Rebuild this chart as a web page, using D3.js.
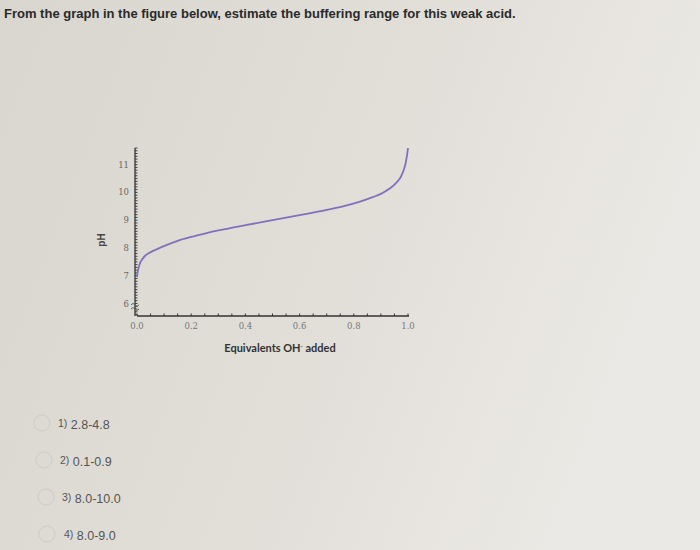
<!DOCTYPE html>
<html><head><meta charset="utf-8">
<script src="https://cdn.jsdelivr.net/npm/d3@7"></script>
<style>html,body{margin:0;padding:0;overflow:hidden;}svg{display:block;}</style>
</head><body>
<svg id="c" width="700" height="550"></svg>
<script>
const titleText = "From the graph in the figure below, estimate the buffering range for this weak acid.";
const xLabel = "Equivalents OH";
const yLabel = "pH";
const equivalents = [0, 0.002, 0.006, 0.012, 0.02, 0.03, 0.045, 0.065, 0.09, 0.12, 0.16, 0.2, 0.25, 0.3, 0.4, 0.5, 0.6, 0.7, 0.76, 0.82, 0.87, 0.9, 0.93, 0.95, 0.97, 0.98, 0.99, 0.995, 1.0];
const phValues   = [6.95, 7.1, 7.3, 7.47, 7.6, 7.72, 7.82, 7.92, 8.03, 8.15, 8.29, 8.4, 8.52, 8.63, 8.82, 9.0, 9.18, 9.37, 9.5, 9.66, 9.83, 9.95, 10.12, 10.28, 10.5, 10.7, 11.0, 11.25, 11.6];
const xTickLabels = ["0.0", "0.2", "0.4", "0.6", "0.8", "1.0"];
const yTickLabels = ["6", "7", "8", "9", "10", "11"];
const choices = ["1) 2.8-4.8", "2) 0.1-0.9", "3) 8.0-10.0", "4) 8.0-9.0"];

const svg = d3.select("#c");
const defs = svg.append("defs");
const g = defs.append("linearGradient").attr("id","bg").attr("x1","0").attr("y1","0").attr("x2","1").attr("y2","0.3");
g.append("stop").attr("offset","0").attr("stop-color","#d9d6cf");
g.append("stop").attr("offset","0.6").attr("stop-color","#e2dfd9");
g.append("stop").attr("offset","1").attr("stop-color","#ebe9e5");
svg.append("rect").attr("width",700).attr("height",550).attr("fill","url(#bg)");

svg.append("text").attr("x",4).attr("y",18).attr("font-family","Liberation Sans, Arial, sans-serif")
  .attr("font-size",13).attr("font-weight","bold").attr("fill","#2a2a2a").text(titleText);

const x = d3.scaleLinear().domain([0,1]).range([137,408]);
const y = d3.scaleLinear().domain([5.55,11.6]).range([316,148]);

// axes
const xAxis = svg.append("g").attr("transform","translate(0,316)");
xAxis.append("line").attr("x1",x(0)).attr("x2",x(1)+1).attr("stroke","#333").attr("stroke-width",1.3);
const minorX = d3.range(0,21).map(i=>i*0.05);
xAxis.selectAll("line.t").data(minorX).enter().append("line").attr("class","t")
  .attr("x1",d=>x(d)).attr("x2",d=>x(d)).attr("y1",0).attr("y2",-2.5).attr("stroke","#333").attr("stroke-width",1);
xAxis.selectAll("text").data(xTickLabels).enter().append("text")
  .attr("x",d=>x(+d)).attr("y",13).attr("text-anchor","middle")
  .attr("font-family","DejaVu Serif, serif").attr("font-size",8.5).attr("fill","#777").text(d=>d);

const yAxis = svg.append("g").attr("transform","translate(135,0)");
yAxis.append("line").attr("y1",y(5.55)).attr("y2",y(11.6)).attr("stroke","#333").attr("stroke-width",1.3);
const minorY = d3.range(56,117).map(i=>i/10);
yAxis.selectAll("line.t").data(minorY).enter().append("line").attr("class","t")
  .attr("x1",0).attr("x2",2.5).attr("y1",d=>y(d)).attr("y2",d=>y(d)).attr("stroke","#333").attr("stroke-width",0.9);
yAxis.selectAll("text").data(yTickLabels).enter().append("text")
  .attr("x",-6).attr("y",d=>y(+d)+3).attr("text-anchor","end")
  .attr("font-family","DejaVu Serif, serif").attr("font-size",8.5).attr("fill","#666").text(d=>d);
// axis break mark
yAxis.append("path").attr("d",`M-4,${y(5.95)} q2,-3 4,0 t4,0 M-4,${y(5.8)} q2,-3 4,0 t4,0`)
  .attr("fill","none").attr("stroke","#555").attr("stroke-width",0.9);

svg.append("text").attr("transform","translate(105,240) rotate(-90)").attr("text-anchor","middle")
  .attr("font-family","Liberation Sans, Arial, sans-serif").attr("font-weight","bold").attr("font-size",10).attr("fill","#444").text(yLabel);

const lab = svg.append("text").attr("x",280).attr("y",352).attr("text-anchor","middle")
  .attr("font-family","Lato, Open Sans, sans-serif").attr("font-weight","bold").attr("font-size",11).attr("fill","#333");
lab.append("tspan").text(xLabel);
lab.append("tspan").attr("dy",-4).attr("font-size",6).text("-");
lab.append("tspan").attr("dy",4).text(" added");

// curve
const pts = equivalents.map((e,i)=>[e, phValues[i]]);
svg.append("path").datum(pts)
  .attr("d", d3.line().x(d=>x(d[0])).y(d=>y(d[1])).curve(d3.curveCatmullRom.alpha(0.5)))
  .attr("fill","none").attr("stroke","#7d72bb").attr("stroke-width",1.8);

// choices
const cx = [42,44,46,47], tx = [58,60,62,64], ty = [429,466,503,540];
choices.forEach((c,i)=>{
  svg.append("circle").attr("cx",cx[i]).attr("cy",ty[i]-6).attr("r",8).attr("fill","none").attr("stroke","#d2cfc8").attr("stroke-width",1.3);
  const t = svg.append("text").attr("x",tx[i]).attr("y",ty[i]).attr("font-family","Liberation Sans, Arial, sans-serif").attr("font-size",12.5).attr("fill","#555");
  const parts = c.split(") ");
  t.append("tspan").attr("font-size",10.5).attr("dy",-2).text(parts[0]+")");
  t.append("tspan").attr("dy",2).text(" "+parts[1]);
});
</script>
</body></html>
